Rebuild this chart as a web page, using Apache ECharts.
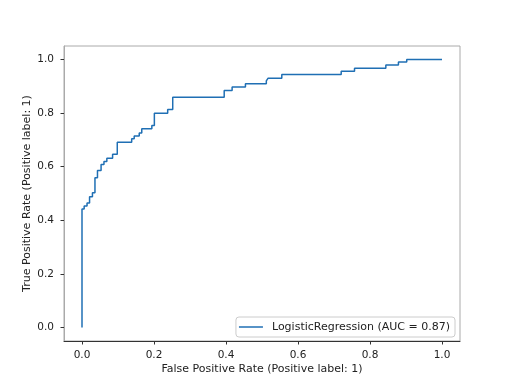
<!DOCTYPE html>
<html>
<head>
<meta charset="utf-8">
<script src="https://cdn.jsdelivr.net/npm/echarts@6/dist/echarts.min.js"></script>
<style>html,body{margin:0;padding:0;background:#fff}#c{width:512px;height:384px}</style>
</head>
<body>
<div id="c"></div>
<script>
// ROC curve vertices (step corners): false positive rate and true positive rate
var fpr = [0.000, 0.000, 0.006, 0.014, 0.021, 0.029, 0.036, 0.043, 0.053, 0.061, 0.069, 0.085, 0.098, 0.138, 0.145, 0.159, 0.166, 0.194, 0.201, 0.238, 0.252, 0.395, 0.417, 0.454, 0.512, 0.517, 0.555, 0.720, 0.757, 0.844, 0.879, 0.902, 1.000];
var tpr = [0.000, 0.442, 0.453, 0.465, 0.488, 0.503, 0.559, 0.586, 0.608, 0.619, 0.631, 0.646, 0.691, 0.704, 0.714, 0.726, 0.741, 0.754, 0.799, 0.813, 0.859, 0.884, 0.897, 0.909, 0.920, 0.930, 0.944, 0.956, 0.967, 0.979, 0.990, 1.000, 1.000];
var tickValues = [0, 0.2, 0.4, 0.6, 0.8, 1.0];
var seriesName = 'LogisticRegression (AUC = 0.87)';
var xName = 'False Positive Rate (Positive label: 1)';
var yName = 'True Positive Rate (Positive label: 1)';

var pts = fpr.map(function (x, i) { return [x, tpr[i]]; });
var font = 'DejaVu Sans';
var chart = echarts.init(document.getElementById('c'), null, {renderer: 'canvas'});
chart.setOption({
  animation: false,
  backgroundColor: '#fff',
  grid: {left: 64, right: 52, top: 46, bottom: 43, show: true, borderColor: '#aaa', borderWidth: 1, backgroundColor: 'transparent'},
  xAxis: {
    type: 'value', min: -0.05, max: 1.05,
    name: xName, nameLocation: 'middle', nameGap: 23, nameMoveOverlap: false,
    nameTextStyle: {fontFamily: font, fontSize: 11, color: '#222'},
    splitLine: {show: false},
    axisLine: {show: true, onZero: false, lineStyle: {color: '#333', width: 1}},
    axisTick: {show: true, length: 3.5, customValues: tickValues, lineStyle: {color: '#333'}},
    axisLabel: {customValues: tickValues, margin: 9, fontFamily: font, fontSize: 10.5, color: '#222',
      formatter: function (v) { return v.toFixed(1); }}
  },
  yAxis: {
    type: 'value', min: -0.05, max: 1.05,
    name: yName, nameLocation: 'middle', nameGap: 31, nameMoveOverlap: false,
    nameTextStyle: {fontFamily: font, fontSize: 11, color: '#222'},
    splitLine: {show: false},
    axisLine: {show: true, onZero: false, lineStyle: {color: '#aaa', width: 1}},
    axisTick: {show: true, length: 3.5, customValues: tickValues, lineStyle: {color: '#333'}},
    axisLabel: {customValues: tickValues, margin: 10, fontFamily: font, fontSize: 10.5, color: '#222',
      formatter: function (v) { return v.toFixed(1); }}
  },
  legend: {
    data: [{name: seriesName, icon: 'rect'}],
    right: 57, bottom: 47,
    orient: 'vertical',
    backgroundColor: '#fff', borderColor: '#ccc', borderWidth: 1, borderRadius: 3,
    padding: [3, 5, 3, 3],
    itemWidth: 24, itemHeight: 1.5, itemGap: 4,
    textStyle: {fontFamily: font, fontSize: 11, color: '#222', padding: [0, 0, 0, 4], lineHeight: 14}
  },
  series: [{
    name: seriesName, type: 'line', data: pts, step: 'end',
    symbol: 'none', showSymbol: false,
    lineStyle: {color: '#1f6fb4', width: 1.5},
    itemStyle: {color: '#1f6fb4'}
  }]
});
</script>
</body>
</html>
